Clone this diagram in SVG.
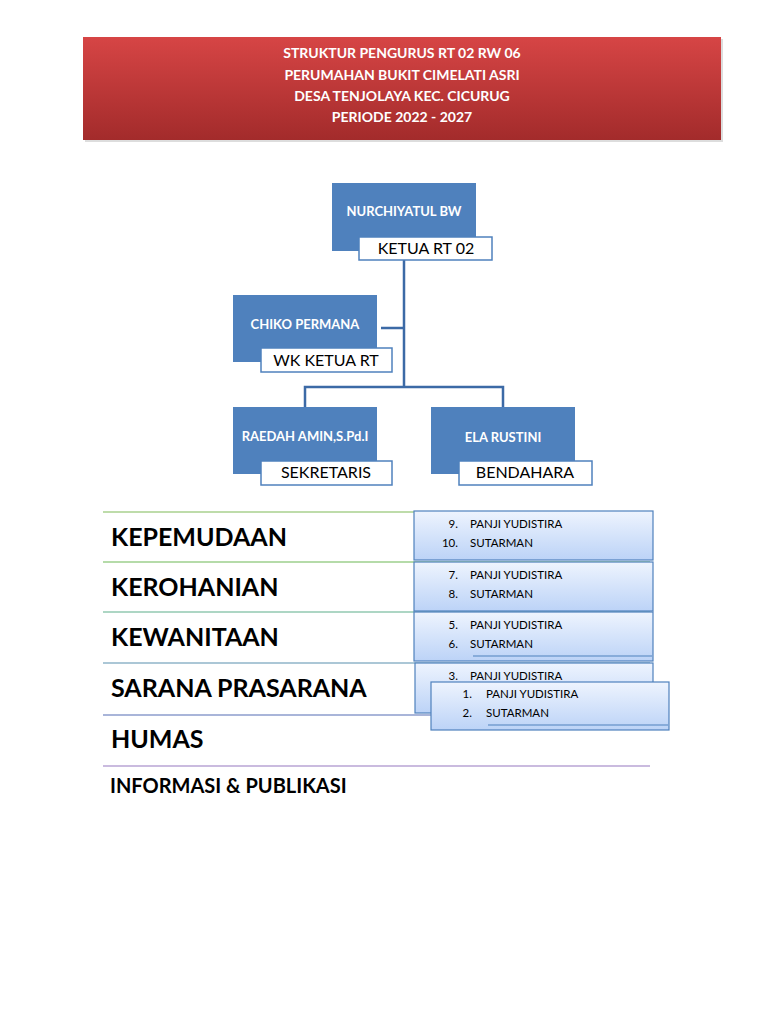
<svg xmlns="http://www.w3.org/2000/svg" width="768" height="1024" viewBox="0 0 768 1024">
<defs>
<linearGradient id="red" x1="0" y1="0" x2="0" y2="1"><stop offset="0" stop-color="#d64545"/><stop offset="1" stop-color="#a32b2b"/></linearGradient>
<linearGradient id="lb" x1="0" y1="0" x2="0" y2="1"><stop offset="0" stop-color="#eef4fe"/><stop offset="1" stop-color="#bcd3f7"/></linearGradient>
</defs>
<style>
text{font-family:Lato,"Liberation Sans",sans-serif}
.h{fill:#fff;font-weight:bold;font-size:14px;text-anchor:middle}
.bb{fill:#4f81bd}
.bt{fill:#fff;font-weight:bold;font-size:13px;text-anchor:middle}
.lbl{fill:#fff;stroke:#4f81bd;stroke-width:1.5}
.lt{fill:#000;font-size:16px;text-anchor:middle}
.c{fill:none;stroke:#3c6aa6;stroke-width:2.5}
.cat{font-weight:bold;font-size:25px;fill:#000}
.lb{fill:url(#lb);stroke:#4f81bd;stroke-width:1.2}
.n{font-size:11.5px;fill:#000}
</style>
<rect x="0" y="0" width="768" height="1024" fill="#fff"/>
<g id="header">
<rect x="85" y="39" width="638" height="103" fill="#bbb" opacity="0.5"/>
<rect x="83" y="37" width="638" height="103" fill="url(#red)"/>
<text class="h" x="402" y="58" font-size="15">STRUKTUR PENGURUS RT 02 RW 06</text>
<text class="h" x="402" y="80">PERUMAHAN BUKIT CIMELATI ASRI</text>
<text class="h" x="402" y="101">DESA TENJOLAYA KEC. CICURUG</text>
<text class="h" x="402" y="122">PERIODE  2022 - 2027</text>
</g>
<g id="connectors">
<path class="c" d="M404 260V387M381 328H404M305 407V387H503V407"/>
</g>
<g id="ketua"><rect class="bb" x="332" y="183" width="144" height="68"/><text class="bt" x="404" y="216">NURCHIYATUL BW</text><rect class="lbl" x="359" y="237" width="133" height="23"/><text class="lt" x="426" y="254">KETUA RT 02</text></g>
<g id="wakil"><rect class="bb" x="233" y="295" width="144" height="67"/><text class="bt" x="305" y="329">CHIKO PERMANA</text><rect class="lbl" x="261" y="348" width="131" height="24"/><text class="lt" x="326" y="366">WK KETUA RT</text></g>
<g id="sekretaris"><rect class="bb" x="233" y="407" width="144" height="67"/><text class="bt" x="305" y="441" font-size="12">RAEDAH AMIN,S.Pd.I</text><rect class="lbl" x="261" y="461" width="131" height="24"/><text class="lt" x="326" y="478">SEKRETARIS</text></g>
<g id="bendahara"><rect class="bb" x="431" y="407" width="144" height="67"/><text class="bt" x="503" y="442">ELA RUSTINI</text><rect class="lbl" x="459" y="461" width="133" height="24"/><text class="lt" x="525" y="478">BENDAHARA</text></g>
<g id="categories">
<line x1="103" y1="512" x2="650" y2="512" stroke="#a9d18e" stroke-width="1.5"/>
<line x1="103" y1="562" x2="650" y2="562" stroke="#9ccf8c" stroke-width="1.5"/>
<line x1="103" y1="612" x2="650" y2="612" stroke="#92c9b0" stroke-width="1.5"/>
<line x1="103" y1="663" x2="650" y2="663" stroke="#8fb5c9" stroke-width="1.5"/>
<line x1="103" y1="715" x2="650" y2="715" stroke="#8c9ccc" stroke-width="1.5"/>
<line x1="103" y1="766" x2="650" y2="766" stroke="#b9a4d4" stroke-width="1.5"/>
<text class="cat" x="111" y="546">KEPEMUDAAN</text>
<text class="cat" x="111" y="596">KEROHANIAN</text>
<text class="cat" x="111" y="646">KEWANITAAN</text>
<text class="cat" x="111" y="697">SARANA PRASARANA</text>
<text class="cat" x="111" y="748">HUMAS</text>
<text x="110" y="793" font-weight="bold" font-size="20" fill="#000">INFORMASI &amp; PUBLIKASI</text>
</g>
<g id="list1"><rect class="lb" x="414" y="511" width="239" height="49"/><text class="n" x="458" y="528" text-anchor="end">9.</text><text class="n" x="470" y="528">PANJI YUDISTIRA</text><text class="n" x="458" y="547" text-anchor="end">10.</text><text class="n" x="470" y="547">SUTARMAN</text></g>
<g id="list2"><rect class="lb" x="414" y="562" width="239" height="49"/><text class="n" x="458" y="579" text-anchor="end">7.</text><text class="n" x="470" y="579">PANJI YUDISTIRA</text><text class="n" x="458" y="598" text-anchor="end">8.</text><text class="n" x="470" y="598">SUTARMAN</text></g>
<g id="list3"><rect class="lb" x="414" y="612" width="239" height="49"/><text class="n" x="458" y="629" text-anchor="end">5.</text><text class="n" x="470" y="629">PANJI YUDISTIRA</text><text class="n" x="458" y="648" text-anchor="end">6.</text><text class="n" x="470" y="648">SUTARMAN</text><line x1="473" y1="656" x2="652" y2="656" stroke="#4f81bd"/></g>
<g id="list4"><rect class="lb" x="415" y="663" width="238" height="50"/><text class="n" x="458" y="680" text-anchor="end">3.</text><text class="n" x="470" y="680">PANJI YUDISTIRA</text></g>
<g id="list5"><rect class="lb" x="431" y="682" width="238" height="48"/><text class="n" x="472" y="698" text-anchor="end">1.</text><text class="n" x="486" y="698">PANJI YUDISTIRA</text><text class="n" x="472" y="717" text-anchor="end">2.</text><text class="n" x="486" y="717">SUTARMAN</text><line x1="488" y1="725" x2="668" y2="725" stroke="#4f81bd"/></g>
</svg>
